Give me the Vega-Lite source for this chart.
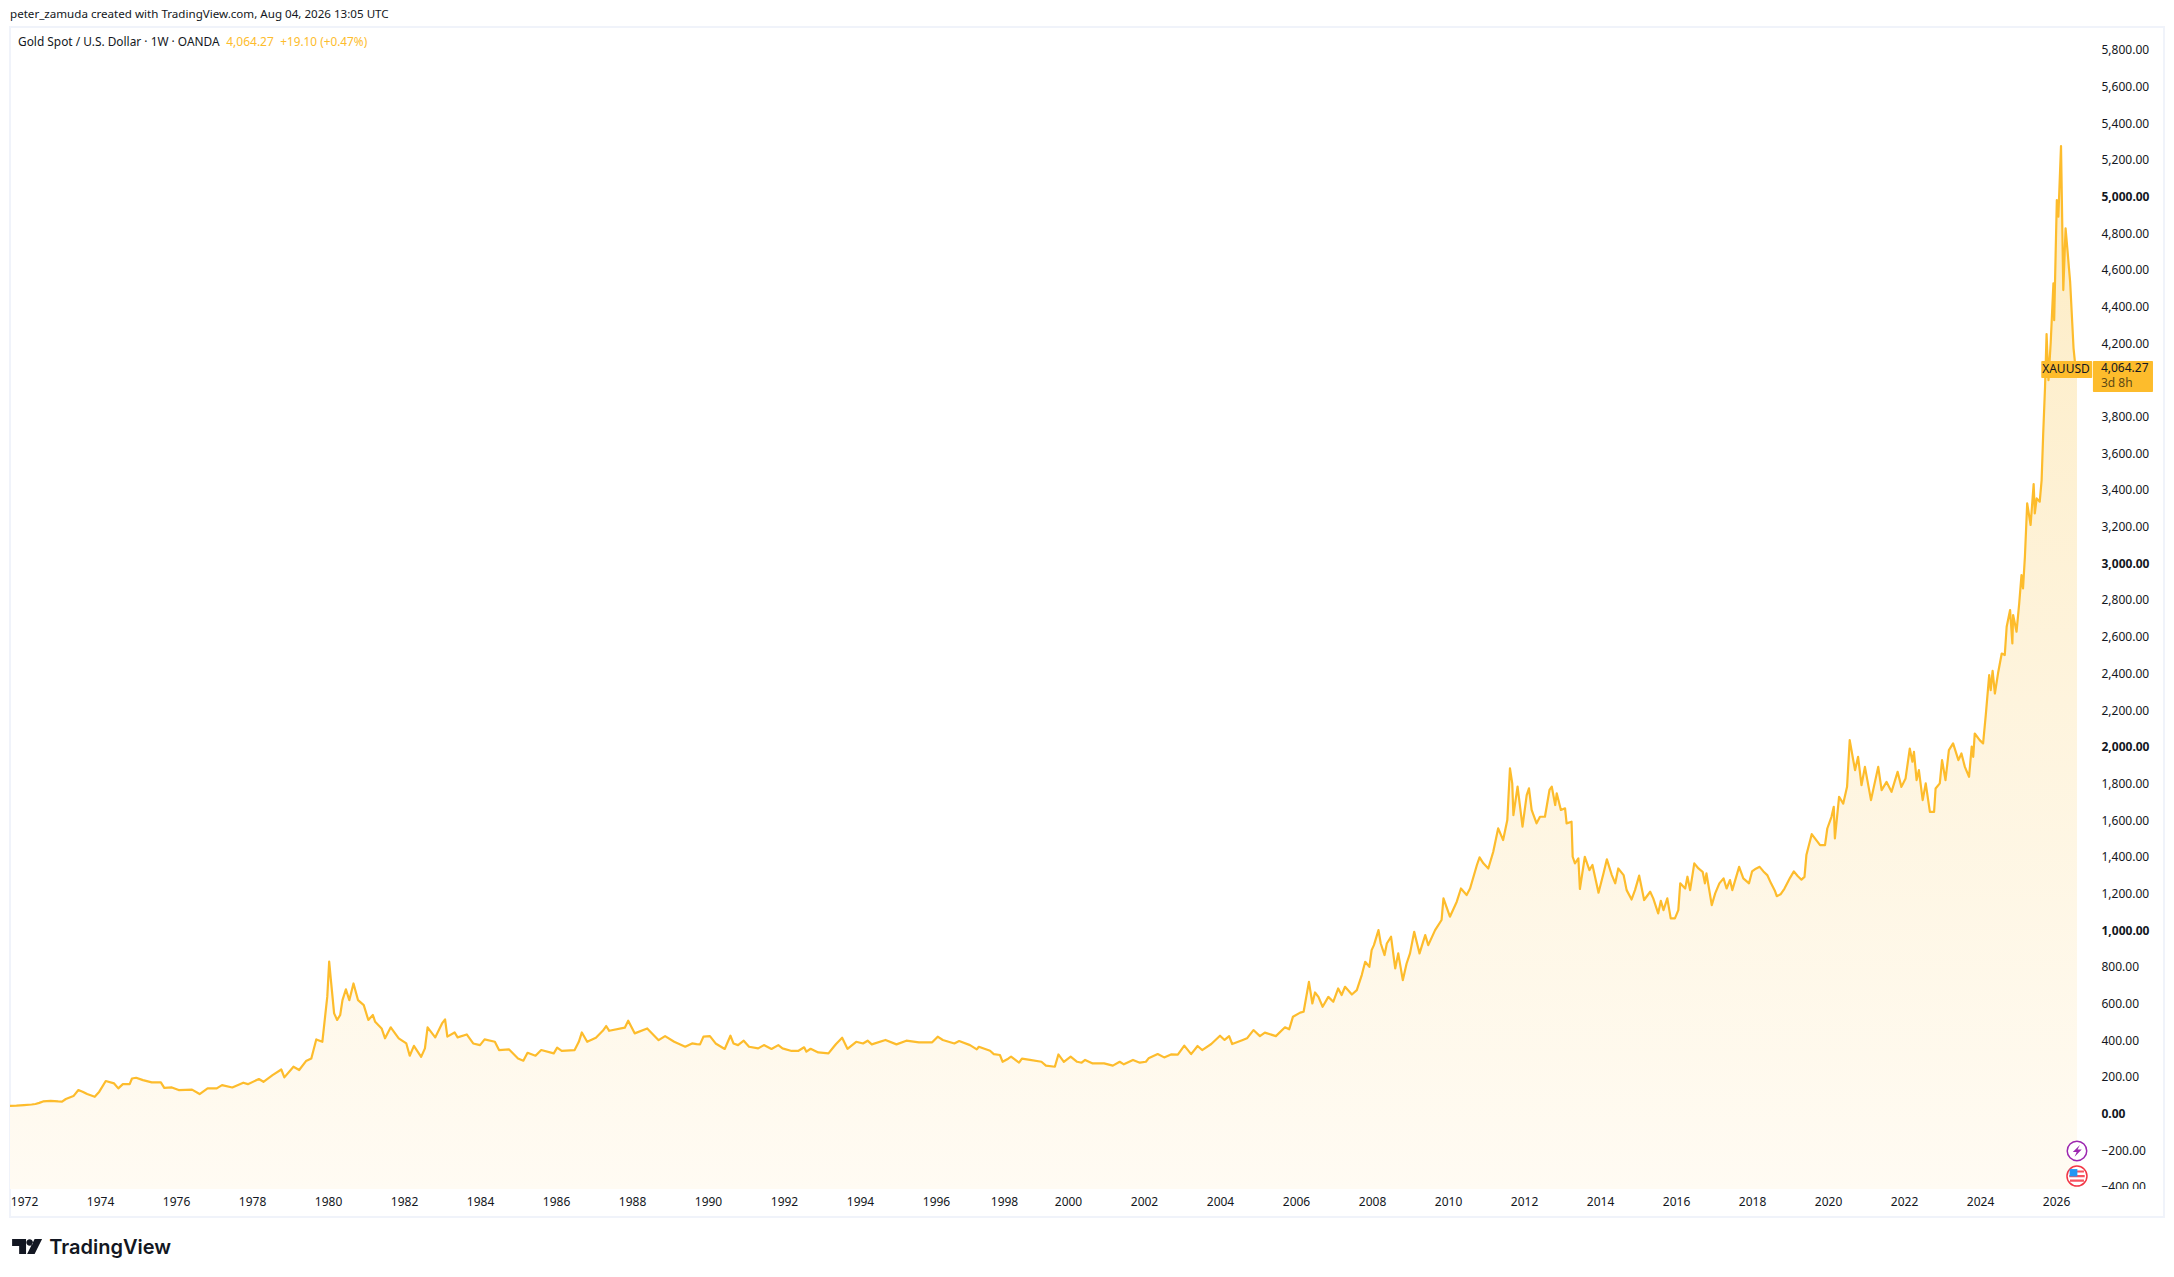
{
  "$schema": "https://vega.github.io/schema/vega-lite/v6.json",
  "description": "Gold Spot / U.S. Dollar weekly, TradingView area chart",
  "width": 2154,
  "height": 1190,
  "autosize": "none",
  "padding": {"left": 10, "top": 27, "right": 10, "bottom": 60},
  "background": "#ffffff",
  "view": {"stroke": "#f0f3fa", "strokeWidth": 2, "fill": "#ffffff"},
  "config": {
    "font": "Noto Sans",
    "axis": {"grid": false, "domain": false, "ticks": false, "title": null, "labelOverlap": false}
  },
  "title": {
    "text": "peter_zamuda created with TradingView.com, Aug 04, 2026 13:05 UTC",
    "anchor": "start",
    "frame": "group",
    "font": "Noto Sans",
    "fontSize": 11.6,
    "fontWeight": "normal",
    "color": "#131722",
    "offset": 6
  },
  "data": {
    "values": [
      {"year":1971.63,"price":42},{"year":1971.8,"price":43},{"year":1972.0,"price":46},{"year":1972.2,"price":49},{"year":1972.3,"price":52},{"year":1972.4,"price":58},{"year":1972.5,"price":66},{"year":1972.7,"price":69},{"year":1972.9,"price":66},{"year":1973.0,"price":65},
      {"year":1973.1,"price":79},{"year":1973.3,"price":95},{"year":1973.43,"price":128},{"year":1973.54,"price":119},{"year":1973.66,"price":106},{"year":1973.86,"price":91},{"year":1973.98,"price":119},{"year":1974.15,"price":177},{"year":1974.37,"price":164},{"year":1974.48,"price":137},
      {"year":1974.6,"price":160},{"year":1974.78,"price":160},{"year":1974.84,"price":191},{"year":1974.95,"price":195},{"year":1975.13,"price":182},{"year":1975.36,"price":170},{"year":1975.6,"price":170},{"year":1975.69,"price":140},{"year":1975.89,"price":142},{"year":1976.07,"price":128},
      {"year":1976.42,"price":130},{"year":1976.62,"price":106},{"year":1976.83,"price":137},{"year":1977.07,"price":137},{"year":1977.21,"price":155},{"year":1977.48,"price":142},{"year":1977.77,"price":168},{"year":1977.89,"price":160},{"year":1978.18,"price":188},{"year":1978.3,"price":173},
      {"year":1978.54,"price":209},{"year":1978.77,"price":240},{"year":1978.85,"price":197},{"year":1979.09,"price":255},{"year":1979.24,"price":237},{"year":1979.42,"price":286},{"year":1979.56,"price":300},{"year":1979.69,"price":404},{"year":1979.85,"price":391},{"year":1979.98,"price":637},
      {"year":1980.03,"price":828},{"year":1980.08,"price":718},{"year":1980.16,"price":546},{"year":1980.24,"price":510},{"year":1980.32,"price":537},{"year":1980.38,"price":618},{"year":1980.47,"price":677},{"year":1980.56,"price":618},{"year":1980.67,"price":709},{"year":1980.79,"price":618},
      {"year":1980.94,"price":591},{"year":1981.06,"price":510},{"year":1981.18,"price":537},{"year":1981.24,"price":500},{"year":1981.41,"price":464},{"year":1981.5,"price":410},{"year":1981.65,"price":470},{"year":1981.86,"price":410},{"year":1982.06,"price":382},{"year":1982.15,"price":315},
      {"year":1982.26,"price":369},{"year":1982.45,"price":309},{"year":1982.55,"price":355},{"year":1982.62,"price":470},{"year":1982.82,"price":415},{"year":1983.0,"price":491},{"year":1983.08,"price":513},{"year":1983.14,"price":419},{"year":1983.33,"price":442},{"year":1983.41,"price":415},
      {"year":1983.65,"price":431},{"year":1983.82,"price":382},{"year":1984.0,"price":373},{"year":1984.12,"price":404},{"year":1984.39,"price":391},{"year":1984.5,"price":346},{"year":1984.76,"price":350},{"year":1985.0,"price":300},{"year":1985.14,"price":288},{"year":1985.25,"price":331},
      {"year":1985.46,"price":315},{"year":1985.61,"price":346},{"year":1985.94,"price":328},{"year":1986.03,"price":359},{"year":1986.15,"price":342},{"year":1986.49,"price":346},{"year":1986.6,"price":391},{"year":1986.68,"price":442},{"year":1986.82,"price":391},{"year":1987.05,"price":413},
      {"year":1987.23,"price":451},{"year":1987.32,"price":477},{"year":1987.4,"price":451},{"year":1987.81,"price":468},{"year":1987.9,"price":506},{"year":1988.07,"price":437},{"year":1988.4,"price":464},{"year":1988.7,"price":400},{"year":1988.87,"price":422},{"year":1989.11,"price":391},
      {"year":1989.4,"price":364},{"year":1989.58,"price":382},{"year":1989.7,"price":378},{"year":1989.79,"price":377},{"year":1989.88,"price":419},{"year":1990.05,"price":422},{"year":1990.2,"price":382},{"year":1990.44,"price":352},{"year":1990.59,"price":424},{"year":1990.67,"price":382},
      {"year":1990.79,"price":373},{"year":1990.94,"price":397},{"year":1991.08,"price":364},{"year":1991.32,"price":355},{"year":1991.47,"price":373},{"year":1991.67,"price":352},{"year":1991.85,"price":373},{"year":1991.96,"price":355},{"year":1992.2,"price":341},{"year":1992.37,"price":341},
      {"year":1992.53,"price":361},{"year":1992.59,"price":337},{"year":1992.7,"price":353},{"year":1992.9,"price":333},{"year":1993.17,"price":328},{"year":1993.31,"price":364},{"year":1993.37,"price":379},{"year":1993.53,"price":413},{"year":1993.67,"price":353},{"year":1993.9,"price":391},
      {"year":1994.08,"price":382},{"year":1994.2,"price":397},{"year":1994.31,"price":377},{"year":1994.67,"price":401},{"year":1994.96,"price":377},{"year":1995.22,"price":397},{"year":1995.55,"price":388},{"year":1995.9,"price":388},{"year":1996.05,"price":419},{"year":1996.2,"price":401},
      {"year":1996.54,"price":382},{"year":1996.68,"price":395},{"year":1997.0,"price":373},{"year":1997.2,"price":350},{"year":1997.26,"price":364},{"year":1997.59,"price":342},{"year":1997.7,"price":324},{"year":1997.88,"price":319},{"year":1997.96,"price":282},{"year":1998.13,"price":299},
      {"year":1998.22,"price":310},{"year":1998.47,"price":277},{"year":1998.56,"price":299},{"year":1998.81,"price":292},{"year":1999.17,"price":282},{"year":1999.31,"price":261},{"year":1999.59,"price":255},{"year":1999.7,"price":322},{"year":1999.87,"price":282},{"year":2000.07,"price":310},
      {"year":2000.24,"price":282},{"year":2000.36,"price":277},{"year":2000.45,"price":292},{"year":2000.65,"price":273},{"year":2000.95,"price":273},{"year":2001.18,"price":261},{"year":2001.36,"price":282},{"year":2001.47,"price":268},{"year":2001.71,"price":292},{"year":2001.89,"price":277},
      {"year":2002.05,"price":282},{"year":2002.12,"price":301},{"year":2002.36,"price":324},{"year":2002.53,"price":306},{"year":2002.71,"price":322},{"year":2002.89,"price":321},{"year":2003.06,"price":370},{"year":2003.24,"price":324},{"year":2003.41,"price":368},{"year":2003.53,"price":346},
      {"year":2003.77,"price":379},{"year":2004.0,"price":424},{"year":2004.12,"price":401},{"year":2004.24,"price":422},{"year":2004.32,"price":379},{"year":2004.6,"price":401},{"year":2004.71,"price":410},{"year":2004.88,"price":455},{"year":2005.05,"price":422},{"year":2005.18,"price":441},
      {"year":2005.47,"price":422},{"year":2005.71,"price":470},{"year":2005.82,"price":459},{"year":2005.92,"price":528},{"year":2006.11,"price":550},{"year":2006.2,"price":555},{"year":2006.34,"price":718},{"year":2006.43,"price":600},{"year":2006.5,"price":660},{"year":2006.59,"price":636},
      {"year":2006.7,"price":582},{"year":2006.85,"price":636},{"year":2006.98,"price":609},{"year":2007.11,"price":682},{"year":2007.2,"price":646},{"year":2007.29,"price":691},{"year":2007.47,"price":649},{"year":2007.6,"price":673},{"year":2007.73,"price":755},{"year":2007.82,"price":827},
      {"year":2007.93,"price":800},{"year":2007.99,"price":891},{"year":2008.05,"price":918},{"year":2008.17,"price":1000},{"year":2008.23,"price":927},{"year":2008.33,"price":864},{"year":2008.39,"price":927},{"year":2008.5,"price":964},{"year":2008.61,"price":791},{"year":2008.69,"price":873},
      {"year":2008.81,"price":727},{"year":2008.91,"price":818},{"year":2009.0,"price":873},{"year":2009.11,"price":991},{"year":2009.25,"price":873},{"year":2009.4,"price":973},{"year":2009.48,"price":918},{"year":2009.66,"price":1000},{"year":2009.83,"price":1055},{"year":2009.88,"price":1173},
      {"year":2010.05,"price":1073},{"year":2010.23,"price":1155},{"year":2010.34,"price":1227},{"year":2010.49,"price":1191},{"year":2010.58,"price":1227},{"year":2010.76,"price":1355},{"year":2010.83,"price":1397},{"year":2010.93,"price":1364},{"year":2011.06,"price":1336},{"year":2011.19,"price":1427},
      {"year":2011.32,"price":1555},{"year":2011.45,"price":1491},{"year":2011.56,"price":1600},{"year":2011.63,"price":1882},{"year":2011.69,"price":1800},{"year":2011.72,"price":1627},{"year":2011.83,"price":1782},{"year":2011.96,"price":1564},{"year":2012.07,"price":1736},{"year":2012.13,"price":1773},
      {"year":2012.2,"price":1655},{"year":2012.33,"price":1582},{"year":2012.42,"price":1618},{"year":2012.55,"price":1618},{"year":2012.67,"price":1764},{"year":2012.73,"price":1782},{"year":2012.82,"price":1682},{"year":2012.86,"price":1746},{"year":2012.97,"price":1655},{"year":2013.08,"price":1664},
      {"year":2013.12,"price":1582},{"year":2013.25,"price":1591},{"year":2013.28,"price":1400},{"year":2013.34,"price":1364},{"year":2013.43,"price":1391},{"year":2013.47,"price":1224},{"year":2013.6,"price":1400},{"year":2013.72,"price":1327},{"year":2013.8,"price":1355},{"year":2013.96,"price":1204},
      {"year":2014.09,"price":1309},{"year":2014.18,"price":1386},{"year":2014.31,"price":1300},{"year":2014.4,"price":1255},{"year":2014.48,"price":1336},{"year":2014.62,"price":1300},{"year":2014.7,"price":1218},{"year":2014.83,"price":1167},{"year":2014.92,"price":1218},{"year":2015.03,"price":1297},
      {"year":2015.16,"price":1164},{"year":2015.32,"price":1209},{"year":2015.4,"price":1173},{"year":2015.53,"price":1091},{"year":2015.6,"price":1160},{"year":2015.67,"price":1109},{"year":2015.77,"price":1173},{"year":2015.86,"price":1064},{"year":2015.97,"price":1064},{"year":2016.06,"price":1109},
      {"year":2016.11,"price":1255},{"year":2016.24,"price":1227},{"year":2016.3,"price":1291},{"year":2016.37,"price":1218},{"year":2016.48,"price":1364},{"year":2016.59,"price":1336},{"year":2016.7,"price":1318},{"year":2016.76,"price":1255},{"year":2016.8,"price":1309},{"year":2016.94,"price":1136},
      {"year":2017.03,"price":1200},{"year":2017.14,"price":1255},{"year":2017.25,"price":1282},{"year":2017.33,"price":1227},{"year":2017.42,"price":1273},{"year":2017.48,"price":1218},{"year":2017.66,"price":1345},{"year":2017.77,"price":1282},{"year":2017.92,"price":1255},{"year":2018.0,"price":1320},
      {"year":2018.1,"price":1335},{"year":2018.2,"price":1345},{"year":2018.3,"price":1320},{"year":2018.4,"price":1300},{"year":2018.5,"price":1255},{"year":2018.6,"price":1215},{"year":2018.65,"price":1185},{"year":2018.75,"price":1195},{"year":2018.85,"price":1225},{"year":2019.0,"price":1285},
      {"year":2019.1,"price":1320},{"year":2019.2,"price":1295},{"year":2019.3,"price":1275},{"year":2019.38,"price":1290},{"year":2019.43,"price":1409},{"year":2019.57,"price":1523},{"year":2019.79,"price":1463},{"year":2019.92,"price":1463},{"year":2019.98,"price":1554},{"year":2020.09,"price":1618},
      {"year":2020.15,"price":1672},{"year":2020.18,"price":1500},{"year":2020.29,"price":1727},{"year":2020.4,"price":1690},{"year":2020.5,"price":1781},{"year":2020.57,"price":2036},{"year":2020.71,"price":1872},{"year":2020.79,"price":1945},{"year":2020.88,"price":1790},{"year":2020.97,"price":1890},
      {"year":2021.13,"price":1709},{"year":2021.32,"price":1890},{"year":2021.41,"price":1763},{"year":2021.54,"price":1808},{"year":2021.67,"price":1754},{"year":2021.83,"price":1863},{"year":2021.93,"price":1781},{"year":2022.04,"price":1827},{"year":2022.15,"price":1990},{"year":2022.22,"price":1918},
      {"year":2022.26,"price":1972},{"year":2022.33,"price":1818},{"year":2022.39,"price":1872},{"year":2022.49,"price":1709},{"year":2022.57,"price":1800},{"year":2022.68,"price":1645},{"year":2022.79,"price":1645},{"year":2022.83,"price":1772},{"year":2022.94,"price":1800},{"year":2023.0,"price":1927},
      {"year":2023.09,"price":1818},{"year":2023.18,"price":1981},{"year":2023.29,"price":2018},{"year":2023.43,"price":1927},{"year":2023.51,"price":1963},{"year":2023.6,"price":1890},{"year":2023.71,"price":1836},{"year":2023.78,"price":2000},{"year":2023.82,"price":1945},{"year":2023.86,"price":2072},
      {"year":2023.99,"price":2036},{"year":2024.08,"price":2018},{"year":2024.15,"price":2172},{"year":2024.24,"price":2390},{"year":2024.28,"price":2308},{"year":2024.33,"price":2414},{"year":2024.39,"price":2290},{"year":2024.48,"price":2409},{"year":2024.57,"price":2508},{"year":2024.65,"price":2500},
      {"year":2024.7,"price":2654},{"year":2024.79,"price":2745},{"year":2024.85,"price":2563},{"year":2024.87,"price":2718},{"year":2024.96,"price":2627},{"year":2025.03,"price":2781},{"year":2025.09,"price":2936},{"year":2025.13,"price":2863},{"year":2025.18,"price":3036},{"year":2025.24,"price":3327},
      {"year":2025.33,"price":3209},{"year":2025.41,"price":3432},{"year":2025.44,"price":3272},{"year":2025.49,"price":3354},{"year":2025.57,"price":3336},{"year":2025.62,"price":3454},{"year":2025.66,"price":3700},{"year":2025.71,"price":3963},{"year":2025.75,"price":4250},{"year":2025.8,"price":3999},
      {"year":2025.86,"price":4208},{"year":2025.93,"price":4526},{"year":2025.95,"price":4326},{"year":2026.02,"price":4981},{"year":2026.06,"price":4890},{"year":2026.13,"price":5275},{"year":2026.19,"price":4490},{"year":2026.25,"price":4826},{"year":2026.3,"price":4708},{"year":2026.34,"price":4608},
      {"year":2026.37,"price":4535},{"year":2026.46,"price":4172},{"year":2026.5,"price":4090},{"year":2026.55,"price":4064.27}
    ]
  },
  "layer": [
    {
      "mark": {
        "type": "area",
        "color": {
          "gradient": "linear",
          "x1": 1, "y1": 0, "x2": 1, "y2": 1,
          "stops": [{"offset": 0, "color": "#fdecc4"}, {"offset": 1, "color": "#fffbf3"}]
        }
      },
      "encoding": {
        "x": {
          "field": "year",
          "type": "quantitative",
          "scale": {"domain": [1971.63, 1996, 1998, 2000, 2028.84], "range": [0, 926, 994, 1058, 2154], "nice": false, "zero": false},
          "axis": {
            "orient": "bottom",
            "offset": -28,
            "values": [1972,1974,1976,1978,1980,1982,1984,1986,1988,1990,1992,1994,1996,1998,2000,2002,2004,2006,2008,2010,2012,2014,2016,2018,2020,2022,2024,2026],
            "tickCount": 40,
            "format": "d",
            "labelPadding": 7,
            "labelFontSize": 12,
            "labelColor": "#131722",
            "labelFont": "Noto Sans",
            "labelFlush": false,
            "labelBound": false,
            "title": null,
            "zindex": 1
          }
        },
        "y": {
          "field": "price",
          "type": "quantitative",
          "scale": {"domain": [-564.3, 5924.2], "nice": false, "zero": false},
          "axis": {
            "orient": "right",
            "offset": -87,
            "values": [-400,-200,0,200,400,600,800,1000,1200,1400,1600,1800,2000,2200,2400,2600,2800,3000,3200,3400,3600,3800,4000,4200,4400,4600,4800,5000,5200,5400,5600,5800],
            "tickCount": 40,
            "format": ",.2f",
            "labelPadding": 24,
            "labelFontSize": 12,
            "labelColor": "#131722",
            "labelFont": "Noto Sans",
            "labelFontWeight": {"condition": {"test": "datum.value == 5000 || datum.value == 3000 || datum.value == 2000 || datum.value == 1000 || datum.value == 0", "value": "bold"}, "value": "normal"},
            "title": null,
            "zindex": 0
          }
        },
        "y2": {"datum": -411.7}
      }
    },
    {
      "mark": {"type": "line", "color": "#fdbc2c", "strokeWidth": 2.2, "strokeJoin": "round"},
      "encoding": {
        "x": {"field": "year", "type": "quantitative"},
        "y": {"field": "price", "type": "quantitative"}
      }
    },
    {
      "data": {"values": [{"kind": "cover"}]},
      "mark": {"type": "rect", "color": "#ffffff"},
      "encoding": {
        "x": {"datum": 2027},
        "x2": {"datum": 2028.7},
        "y": {"datum": -411.7},
        "y2": {"datum": -555}
      }
    },
    {
      "data": {"values": [{"kind": "symbol tag"}]},
      "mark": {"type": "rect", "color": "#fdbc2c", "cornerRadius": 1},
      "encoding": {
        "x": {"datum": 2025.61},
        "x2": {"datum": 2026.95},
        "y": {"datum": 4103},
        "y2": {"datum": 4010}
      }
    },
    {
      "data": {"values": [{"kind": "price tag"}]},
      "mark": {"type": "rect", "color": "#fdbc2c", "cornerRadius": 1},
      "encoding": {
        "x": {"datum": 2026.97},
        "x2": {"datum": 2028.55},
        "y": {"datum": 4103},
        "y2": {"datum": 3934}
      }
    },
    {
      "data": {"values": [{"label": "XAUUSD"}]},
      "mark": {"type": "text", "font": "Noto Sans", "fontSize": 12, "color": "#131722", "align": "center", "baseline": "middle"},
      "encoding": {"x": {"datum": 2026.26}, "y": {"datum": 4057}, "text": {"field": "label"}}
    },
    {
      "data": {"values": [{"label": "4,064.27"}]},
      "mark": {"type": "text", "font": "Noto Sans", "fontSize": 12, "color": "#131722", "align": "left", "baseline": "middle"},
      "encoding": {"x": {"datum": 2027.18}, "y": {"datum": 4064}, "text": {"field": "label"}}
    },
    {
      "data": {"values": [{"label": "3d 8h"}]},
      "mark": {"type": "text", "font": "Noto Sans", "fontSize": 12, "color": "#5d4a14", "align": "left", "baseline": "middle"},
      "encoding": {"x": {"datum": 2027.18}, "y": {"datum": 3982}, "text": {"field": "label"}}
    },
    {
      "data": {"values": [{"label": "Gold Spot / U.S. Dollar · 1W · OANDA"}]},
      "mark": {"type": "text", "font": "Noto Sans", "fontSize": 11.9, "color": "#131722", "align": "left", "baseline": "middle"},
      "encoding": {"x": {"datum": 1971.84}, "y": {"datum": 5845}, "text": {"field": "label"}}
    },
    {
      "data": {"values": [{"label": "4,064.27"}]},
      "mark": {"type": "text", "font": "Noto Sans", "fontSize": 12, "color": "#fdbc2c", "align": "left", "baseline": "middle"},
      "encoding": {"x": {"datum": 1977.32}, "y": {"datum": 5845}, "text": {"field": "label"}}
    },
    {
      "data": {"values": [{"label": "+19.10 (+0.47%)"}]},
      "mark": {"type": "text", "font": "Noto Sans", "fontSize": 11.8, "color": "#fdbc2c", "align": "left", "baseline": "middle"},
      "encoding": {"x": {"datum": 1978.74}, "y": {"datum": 5845}, "text": {"field": "label"}}
    },
    {
      "data": {"values": [{"kind": "dividends badge"}]},
      "mark": {"type": "point", "shape": "circle", "size": 380, "fill": "#ffffff", "stroke": "#9c27b0", "strokeWidth": 1.5, "opacity": 1},
      "encoding": {"x": {"datum": 2026.55}, "y": {"datum": -204}}
    },
    {
      "data": {"values": [{"kind": "bolt"}]},
      "mark": {"type": "point", "shape": "M0.5,-1L-0.7,0.2L-0.05,0.2L-0.4,1L0.8,-0.25L0.1,-0.25Z", "size": 140, "filled": true, "color": "#9c27b0", "opacity": 1},
      "encoding": {"x": {"datum": 2026.55}, "y": {"datum": -204}}
    },
    {
      "data": {"values": [{"kind": "country badge"}]},
      "mark": {"type": "point", "shape": "circle", "size": 400, "fill": "#ffffff", "stroke": "#f23645", "strokeWidth": 1.5, "opacity": 1},
      "encoding": {"x": {"datum": 2026.55}, "y": {"datum": -341}}
    },
    {
      "data": {"values": [{"kind": "flag stripes"}]},
      "mark": {"type": "point", "shape": "M-1,-0.15H1V0.15H-1ZM-0.9,0.45H0.9V0.75H-0.9ZM0,-0.7H0.9V-0.45H0Z", "size": 240, "filled": true, "color": "#f7525f", "opacity": 1},
      "encoding": {"x": {"datum": 2026.55}, "y": {"datum": -341}}
    },
    {
      "data": {"values": [{"kind": "flag canton"}]},
      "mark": {"type": "point", "shape": "M-0.95,-0.9H0.05V0.05H-0.95Z", "size": 240, "filled": true, "color": "#2196f3", "opacity": 1},
      "encoding": {"x": {"datum": 2026.55}, "y": {"datum": -341}}
    },
    {
      "data": {"values": [{"kind": "logo"}]},
      "mark": {"type": "point", "shape": "M-1,-0.53H-0.07V0.47H-0.53V-0.07H-1ZM-0.05,-0.3a0.22,0.22 0 1 0 0.44,0a0.22,0.22 0 1 0 -0.44,0ZM0.5,-0.53H1L0.5,0.47H0Z", "size": 900, "filled": true, "color": "#131722", "opacity": 1},
      "encoding": {"x": {"datum": 1972.08}, "y": {"datum": -728}}
    },
    {
      "data": {"values": [{"label": "TradingView"}]},
      "mark": {"type": "text", "font": "Inter", "fontSize": 20, "fontWeight": 600, "color": "#131722", "align": "left", "baseline": "alphabetic"},
      "encoding": {"x": {"datum": 1972.66}, "y": {"datum": -766}, "text": {"field": "label"}}
    }
  ]
}
